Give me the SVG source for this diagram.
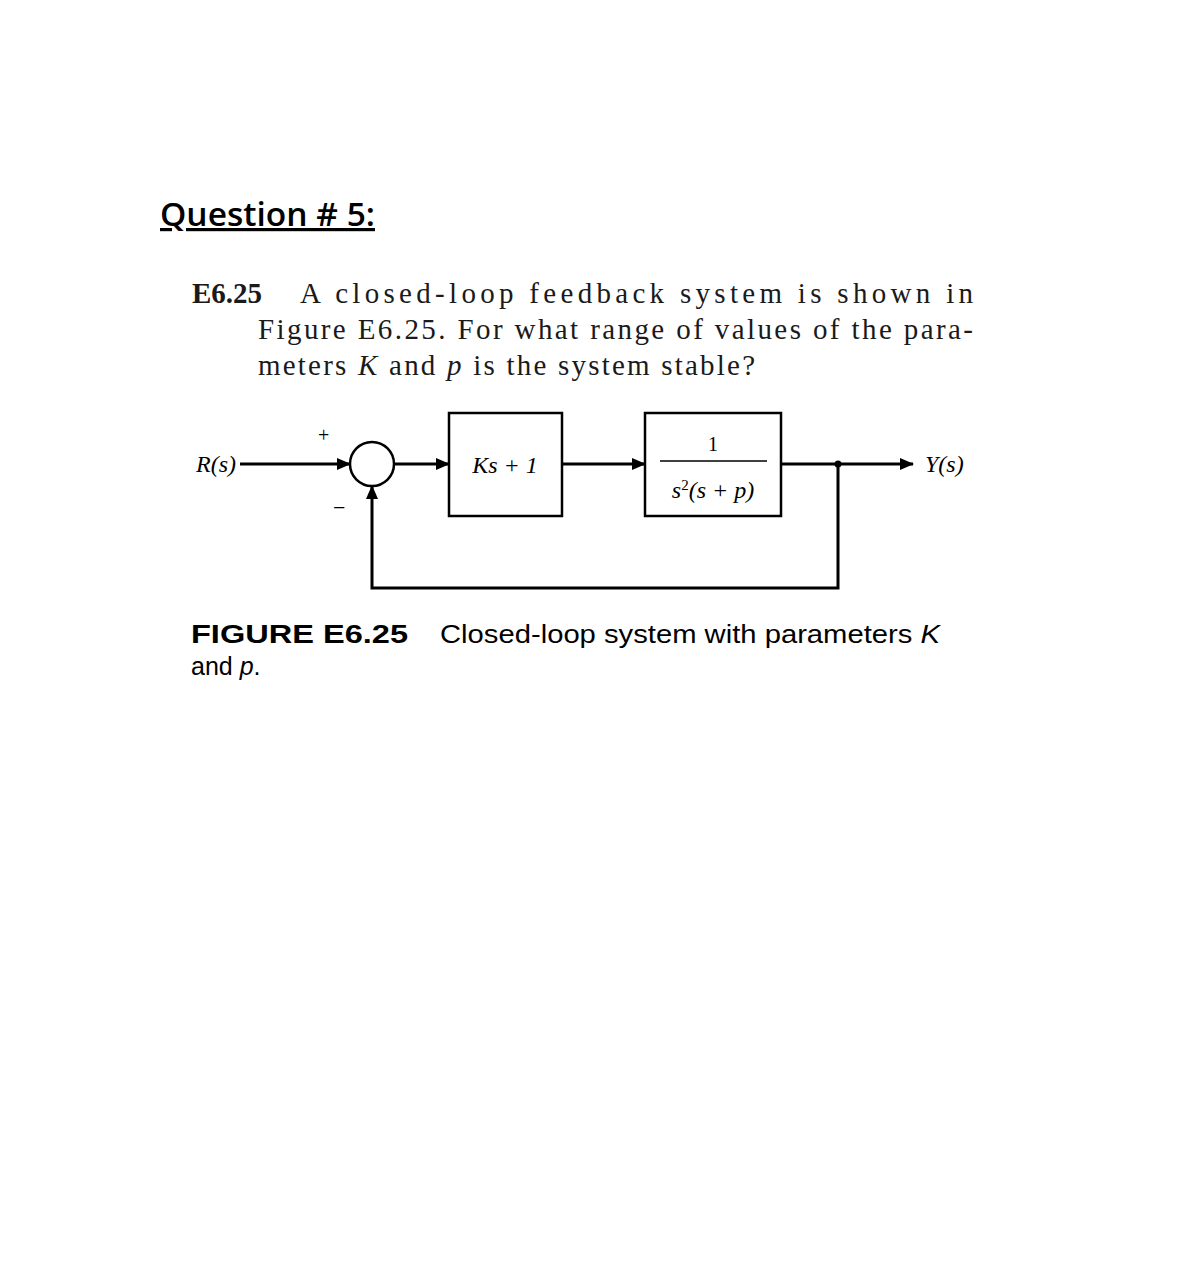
<svg xmlns="http://www.w3.org/2000/svg" width="1179" height="1262" viewBox="0 0 1179 1262">
<style>
.b{fill:none;stroke:#000;stroke-width:2.5}
.l{fill:none;stroke:#000;stroke-width:3}
.s{font-family:"Liberation Serif",serif;fill:#1a1a1a}
.i{font-family:"Liberation Serif",serif;font-style:italic;font-size:24px}
.h{font-family:"Liberation Sans",sans-serif}
</style>
<defs><marker id="a2" markerWidth="14" markerHeight="12" refX="13" refY="6" orient="auto" markerUnits="userSpaceOnUse"><path d="M0,0 L14,6 L0,12z" fill="#000"/></marker></defs>
<rect width="1179" height="1262" fill="#fff"/>
<text x="160" y="226" font-family="Open Sans,Liberation Sans,sans-serif" font-size="32" font-weight="600" text-decoration="underline" textLength="215" lengthAdjust="spacingAndGlyphs">Question # 5:</text>
<text class="s" font-size="29"><tspan x="192" y="303" font-weight="bold">E6.25</tspan><tspan x="300" y="303" textLength="673" lengthAdjust="spacing">A closed-loop feedback system is shown in</tspan><tspan x="258" y="339" textLength="715" lengthAdjust="spacing">Figure E6.25. For what range of values of the para-</tspan><tspan x="258" y="375" textLength="497" lengthAdjust="spacing">meters <tspan font-style="italic">K</tspan> and <tspan font-style="italic">p</tspan> is the system stable?</tspan></text>
<g id="sum"><circle cx="372" cy="464" r="22" class="b"/><text x="318" y="442" font-family="Liberation Serif,serif" font-size="20">+</text><text x="333" y="515" font-family="Liberation Serif,serif" font-size="22">−</text></g>
<g id="b1"><rect x="449" y="413" width="113" height="103" class="b"/><text x="505" y="473" text-anchor="middle" class="i">Ks + 1</text></g>
<g id="b2"><rect x="645" y="413" width="136" height="103" class="b"/><text x="713" y="451" text-anchor="middle" font-family="Liberation Serif,serif" font-size="20">1</text><line x1="660" y1="461" x2="767" y2="461" stroke="#000" stroke-width="1.5"/><text x="713" y="498" text-anchor="middle" class="i">s<tspan font-style="normal" font-size="15" baseline-shift="super">2</tspan>(s + p)</text></g>
<g id="labels"><text x="196" y="472" class="i">R(s)</text><text x="925" y="472" class="i">Y(s)</text></g>
<g id="conn">
<line x1="240" y1="464" x2="350" y2="464" class="l" marker-end="url(#a2)"/>
<line x1="394" y1="464" x2="449" y2="464" class="l" marker-end="url(#a2)"/>
<line x1="562" y1="464" x2="645" y2="464" class="l" marker-end="url(#a2)"/>
<line x1="781" y1="464" x2="913" y2="464" class="l" marker-end="url(#a2)"/>
<circle cx="838" cy="464" r="3.5"/>
<polyline points="838,464 838,588 372,588 372,486" class="l" marker-end="url(#a2)"/>
</g>
<g class="h" font-size="25"><text x="191" y="643" font-weight="bold" textLength="217" lengthAdjust="spacingAndGlyphs">FIGURE E6.25</text><text x="440" y="643" textLength="500" lengthAdjust="spacingAndGlyphs">Closed-loop system with parameters <tspan font-style="italic">K</tspan></text><text x="191" y="675">and <tspan font-style="italic">p</tspan>.</text></g>
</svg>
